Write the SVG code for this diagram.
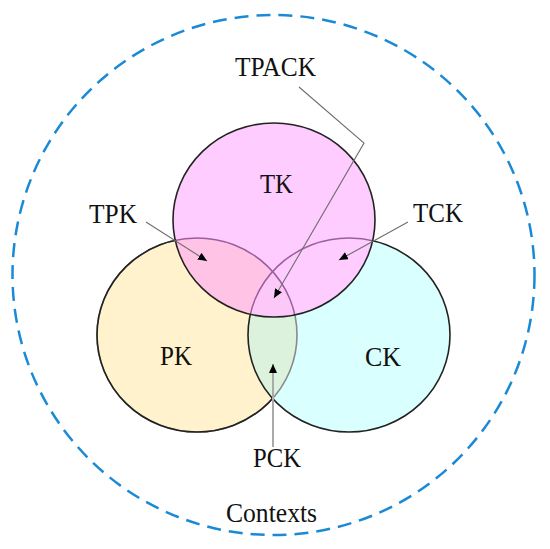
<svg xmlns="http://www.w3.org/2000/svg" width="550" height="549" viewBox="0 0 550 549">
  <style>
    .lbl { font-family: "Liberation Serif", "Times New Roman", serif; font-size: 27px; fill: #111; text-anchor: middle; }
    .conn { fill: none; stroke: #6e6e6e; stroke-width: 1.1; }
    .outline { fill: none; stroke: #222; stroke-width: 1.6; }
    .inner { fill: none; stroke: #9a5f9a; stroke-width: 1.5; }
  </style>
  <defs>
    <ellipse id="pkE" cx="197" cy="335" rx="100" ry="97"/>
    <ellipse id="ckE" cx="349" cy="335" rx="101" ry="97"/>
    <ellipse id="tkE" cx="274" cy="220" rx="101" ry="97"/>
    <clipPath id="clipPK"><use href="#pkE"/></clipPath>
    <clipPath id="clipTK"><use href="#tkE"/></clipPath>
    <mask id="outCK" maskUnits="userSpaceOnUse" x="0" y="0" width="550" height="549">
      <rect x="0" y="0" width="550" height="549" fill="#fff"/>
      <use href="#ckE" fill="#000"/>
    </mask>
    <marker id="ah" markerWidth="10" markerHeight="8" refX="9" refY="4" orient="auto" markerUnits="userSpaceOnUse">
      <path d="M0,0 L9,4 L0,8 z" fill="#000"/>
    </marker>
  </defs>

  <g id="contexts">
    <ellipse cx="273.5" cy="275" rx="261" ry="260" fill="none" stroke="#1a89d6" stroke-width="2.5" stroke-dasharray="14 8"/>
    <text class="lbl" x="271.5" y="522" textLength="91" lengthAdjust="spacingAndGlyphs">Contexts</text>
  </g>

  <g id="PK">
    <use href="#pkE" fill="#FFF2CC"/>
  </g>
  <g id="CK">
    <use href="#ckE" fill="#D9FFFF"/>
  </g>
  <g id="PCK-region">
    <use href="#ckE" fill="#DCF2DC" clip-path="url(#clipPK)"/>
    <use href="#pkE" class="outline" style="stroke:#8a8a8a"/>
    <use href="#pkE" class="outline" mask="url(#outCK)"/>
    <use href="#ckE" class="outline"/>
  </g>
  <g id="TK">
    <use href="#tkE" fill="#FFCCFF"/>
    <g clip-path="url(#clipTK)">
      <use href="#pkE" fill="#FFC3E6"/>
      <use href="#ckE" fill="#FBC8F8" clip-path="url(#clipPK)"/>
      <use href="#pkE" class="inner"/>
      <use href="#ckE" class="inner"/>
    </g>
    <use href="#tkE" class="outline"/>
  </g>

  <g id="labels">
    <text class="lbl" x="276.5" y="193" textLength="33" lengthAdjust="spacingAndGlyphs">TK</text>
    <text class="lbl" x="176" y="365" textLength="32" lengthAdjust="spacingAndGlyphs">PK</text>
    <text class="lbl" x="383" y="366" textLength="36" lengthAdjust="spacingAndGlyphs">CK</text>
    <text class="lbl" x="275.5" y="76" textLength="81" lengthAdjust="spacingAndGlyphs">TPACK</text>
    <text class="lbl" x="113" y="223" textLength="48" lengthAdjust="spacingAndGlyphs">TPK</text>
    <text class="lbl" x="438" y="222" textLength="50" lengthAdjust="spacingAndGlyphs">TCK</text>
    <text class="lbl" x="277" y="467" textLength="48" lengthAdjust="spacingAndGlyphs">PCK</text>
  </g>

  <g id="connectors">
    <polyline class="conn" points="299,87 364,143 274,298" marker-end="url(#ah)"/>
    <line class="conn" x1="146" y1="222" x2="207" y2="261" marker-end="url(#ah)"/>
    <line class="conn" x1="408" y1="222" x2="339" y2="260" marker-end="url(#ah)"/>
    <line class="conn" x1="273" y1="447" x2="273" y2="364" style="stroke:#aaaaaa;stroke-width:2" marker-end="url(#ah)"/>
  </g>
</svg>
